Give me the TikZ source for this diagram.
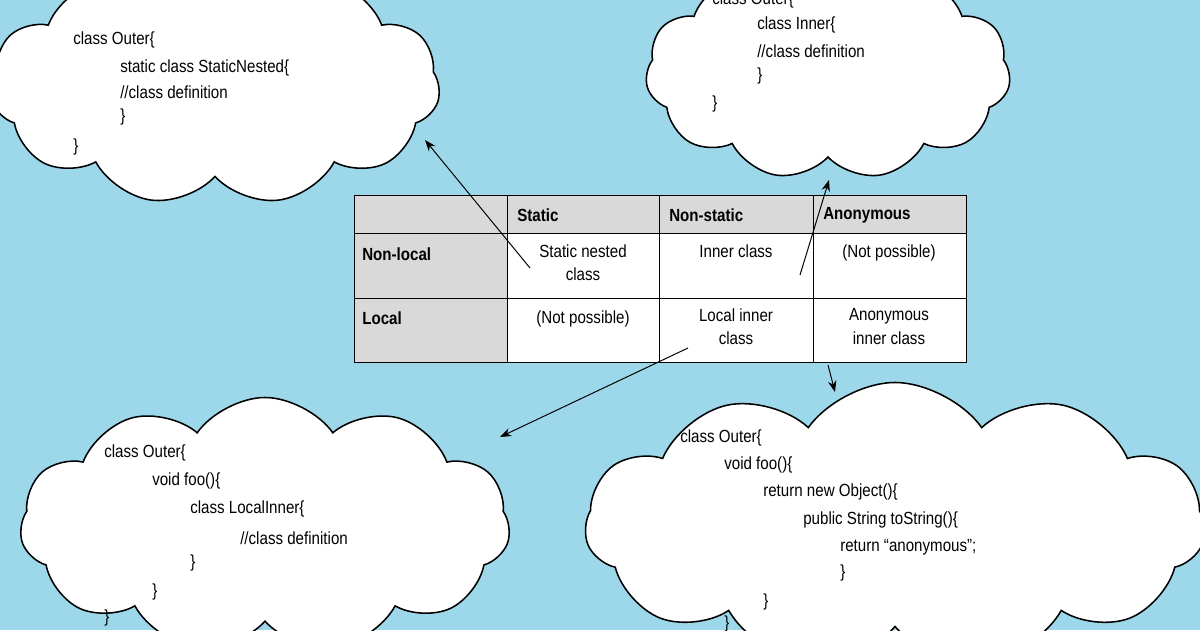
\documentclass[tikz,border=0pt]{standalone}
\usepackage{fontspec}
\setmainfont{Liberation Sans}[FakeStretch=0.86]
\usetikzlibrary{shapes.symbols,arrows.meta}
\definecolor{bgc}{HTML}{9DD8EA}
\definecolor{hdc}{HTML}{D9D9D9}
\begin{document}
\begin{tikzpicture}[x=0.025cm,y=-0.025cm,
  cl/.style n args={3}{cloud,cloud puffs=11,cloud puff arc=110,draw,fill=white,line width=1.1pt,
     inner sep=0pt,minimum width={#1*0.025cm},minimum height={#2*0.025cm},aspect=#3},
  code/.style={anchor=west,inner sep=0pt,font=\fontsize{12.5}{14}\selectfont},
  cell/.style={anchor=north,align=center,inner sep=0pt,font=\fontsize{12.5}{17}\selectfont},
  hdr/.style={anchor=west,inner sep=0pt,font=\bfseries\fontsize{12.5}{14}\selectfont},
  arr/.style={-{Stealth[length=8pt,width=6pt]},line width=0.7pt}]
\useasboundingbox (0,0) rectangle (1200,630);
\clip (0,0) rectangle (1200,630);
\fill[bgc] (0,0) rectangle (1200,630);
% clouds
\node[cl={450}{240}{1.87}] (c1) at (215,85) {};
\node[cl={365}{215}{1.7}] (c2) at (828,72) {};
\node[cl={490}{255}{1.92}] (c3) at (265,525) {};
\node[cl={620}{285}{2.18}] (c4) at (895,525) {};
% code
\node[code] (a1) at (73,40) {class Outer\{};
\node[code] (a2) at (120,68) {static class StaticNested\{};
\node[code] (a3) at (120,92) {//class definition};
\node[code] (a4) at (120,117) {\}};
\node[code] (a5) at (73,147) {\}};
\node[code] (b1) at (712,0) {class Outer\{};
\node[code] (b2) at (757,25) {class Inner\{};
\node[code] (b3) at (757,51) {//class definition};
\node[code] (b4) at (757,76) {\}};
\node[code] (b5) at (712,104) {\}};
\node[code] (d1) at (104,453) {class Outer\{};
\node[code] (d2) at (152,481) {void foo()\{};
\node[code] (d3) at (190,509) {class LocalInner\{};
\node[code] (d4) at (240,538) {//class definition};
\node[code] (d5) at (190,563) {\}};
\node[code] (d6) at (152,592) {\}};
\node[code] (d7) at (104,618) {\}};
\node[code] (e1) at (680,438) {class Outer\{};
\node[code] (e2) at (724,465) {void foo()\{};
\node[code] (e3) at (763,492) {return new Object()\{};
\node[code] (e4) at (803,520) {public String toString()\{};
\node[code] (e5) at (840,547) {return “anonymous”;};
\node[code] (e6) at (840,573) {\}};
\node[code] (e7) at (763,602) {\}};
\node[code] (e8) at (724,624) {\}};
% table
\fill[white] (354,195) rectangle (966,362);
\fill[hdc] (354,195) rectangle (966,233);
\fill[hdc] (354,195) rectangle (507,362);
\draw[line width=0.6pt] (354,195) rectangle (966,362);
\foreach \x in {507,659,813} \draw[line width=0.6pt] (\x,195) -- (\x,362);
\foreach \y in {233,298} \draw[line width=0.6pt] (354,\y) -- (966,\y);
\node[hdr] (h1) at (517,215) {Static};
\node[hdr] (h2) at (669,215) {Non-static};
\node[hdr] (h3) at (823,215) {Anonymous};
\node[hdr] (r1) at (362,254) {Non-local};
\node[hdr] (r2) at (362,318) {Local};
\node[cell] (t11) at (583,244) {Static nested\\class};
\node[cell] (t12) at (736,244) {Inner class};
\node[cell] (t13) at (889,244) {(Not possible)};
\node[cell] (t21) at (583,310) {(Not possible)};
\node[cell] (t22) at (736,308) {Local inner\\class};
\node[cell] (t23) at (889,308) {Anonymous\\inner class};
% connectors
\coordinate (p1) at (530,268); \coordinate (q1) at (425,140);
\coordinate (p2) at (800,275); \coordinate (q2) at (829,180);
\coordinate (p3) at (688,348); \coordinate (q3) at (500,437);
\coordinate (p4) at (828,365); \coordinate (q4) at (835,392);
\draw[arr] (p1) -- (q1);
\draw[arr] (p2) -- (q2);
\draw[arr] (p3) -- (q3);
\draw[arr] (p4) -- (q4);
\end{tikzpicture}
\end{document}
